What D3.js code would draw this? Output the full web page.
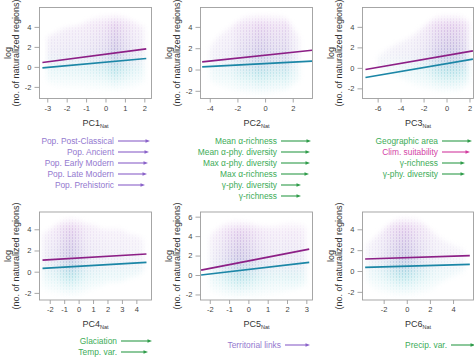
<!DOCTYPE html>
<html>
<head>
<meta charset="utf-8">
<script src="https://cdn.jsdelivr.net/npm/d3@7"></script>
<style>
  body { margin: 0; background: #fff; }
  text { font-family: "Liberation Sans", Arial, sans-serif; }
</style>
</head>
<body>
<svg id="chart" width="474" height="357"></svg>
<script>
// ---- axes ----
var pcNames = ["PC1", "PC2", "PC3", "PC4", "PC5", "PC6"];
var xDomains = [[-3.4, 2.37], [-4.67, 3.43], [-7.32, 2.35], [-2.71, 5.05], [-2.48, 3.32], [-3.83, 5.77]];
var yDomains = [[-3.16, 5.94], [-2.72, 5.82], [-2.99, 5.89], [-2.67, 5.63], [-2.57, 6.48], [-2.78, 5.66]];
var xTicks = [[-3, -2, -1, 0, 1, 2], [-4, -2, 0, 2], [-6, -4, -2, 0, 2], [-2, -1, 0, 1, 2, 3, 4], [-2, -1, 0, 1, 2, 3], [-2, 0, 2, 4]];
var yTicks = [[-2, 0, 2, 4], [-2, 0, 2, 4], [-2, 0, 2, 4], [-2, 0, 2, 4], [-2, 0, 2, 4, 6], [-2, 0, 2, 4]];

// ---- point clouds per x bin ----
var cloudX = [
  [-3, -2.5, -2, -1.5, -1, -0.5, 0, 0.5, 1, 1.5, 2],
  [-4, -3.5, -3, -2.5, -2, -1.5, -1, -0.5, 0, 0.5, 1, 1.5, 2, 2.5],
  [-6, -5, -4, -3, -2, -1.5, -1, -0.5, 0, 0.5, 1, 1.5, 2],
  [-2.5, -2, -1.5, -1, -0.5, 0, 0.5, 1, 1.5, 2, 2.5, 3, 3.5, 4, 4.5],
  [-2, -1.5, -1, -0.5, 0, 0.5, 1, 1.5, 2, 2.5, 3],
  [-3.5, -3, -2.5, -2, -1.5, -1, -0.5, 0, 0.5, 1, 1.5, 2, 2.5, 3, 4, 5]
];
var cloudDens = [
  [.25, .25, .3, .3, .35, .45, .6, 1, .6, .35, .2],
  [.1, .15, .2, .25, .45, .6, .7, .9, .85, .7, .65, .7, .3, .15],
  [.1, .1, .15, .2, .35, .5, .75, .9, 1, 1, .9, .7, .4],
  [.2, .3, .45, .8, 1, .7, .4, .3, .25, .2, .2, .2, .15, .15, .1],
  [.2, .35, .7, 1, .8, .5, .35, .3, .35, .35, .2],
  [.1, .15, .25, .4, .6, .8, 1, 1, .8, .6, .45, .3, .2, .15, .1, .05]
];
var cloudTop = [
  [3, 3.5, 4, 4, 4.5, 5, 5.2, 5.5, 5, 4.5, 4],
  [2, 3, 3.5, 4, 4.5, 5, 5.2, 5.3, 5.3, 5.3, 5, 5, 4, 3],
  [1, 2, 2.5, 3, 4, 4.5, 5, 5.2, 5.3, 5.3, 5.3, 5, 4.5],
  [3.5, 4, 4.5, 5, 5.3, 5, 4.5, 4.5, 4, 4, 4, 4, 3.5, 3.5, 3],
  [4, 5, 5.5, 5.8, 5.5, 5, 5, 5, 5.5, 5.5, 5],
  [2.5, 3, 3.5, 4, 4.5, 5, 5.2, 5.3, 5.2, 5, 4.5, 4, 3.5, 3, 2.5, 2]
];
var cloudBottom = [
  [-1.5, -2, -2, -2, -2.2, -2.3, -2.5, -2.5, -2.3, -2, -1.5],
  [-1, -1.5, -1.5, -2, -2, -2.3, -2.5, -2.5, -2.5, -2.3, -2, -2, -1.5, -1],
  [0, -0.5, -1, -1.5, -2, -2, -2.3, -2.5, -2.5, -2.5, -2.3, -2, -1.5],
  [-1.5, -2, -2, -2.3, -2.5, -2.3, -2, -1.5, -1.5, -1, -1, -1, -0.5, -0.5, 0],
  [-1.5, -2, -2.3, -2.5, -2.5, -2.3, -2, -2, -1.5, -1.5, -1],
  [-1, -1.5, -2, -2, -2.3, -2.5, -2.5, -2.5, -2.5, -2.3, -2, -2, -1.5, -1, -0.5, 0]
];

// ---- fitted lines: [xStart, xEnd, yStart, yEnd] ----
var fitPurple = [[-3.25, 2.1, 0.44, 1.8], [-4.55, 3.4, 0.71, 1.81], [-7.06, 2.3, -0.16, 1.66],
                 [-2.5, 4.7, 1.1, 1.67], [-2.45, 3.15, 0.51, 2.67], [-3.6, 5.45, 1.15, 1.47]];
var fitTeal = [[-3.25, 2.1, -0.1, 0.84], [-4.55, 3.4, 0.25, 0.78], [-7.06, 2.3, -0.94, 0.85],
               [-2.5, 4.7, 0.31, 0.88], [-2.45, 3.15, 0, 1.3], [-3.6, 5.45, 0.35, 0.64]];

// ---- variable loadings listed under each panel ----
var pcVars = [
  ["Pop. Post-Classical", "Pop. Ancient", "Pop. Early Modern", "Pop. Late Modern", "Pop. Prehistoric"],
  ["Mean \u03b1-richness", "Mean \u03b1-phy. diversity", "Max \u03b1-phy. diversity", "Max \u03b1-richness", "\u03b3-phy. diversity", "\u03b3-richness"],
  ["Geographic area", "Clim. suitability", "\u03b3-richness", "\u03b3-phy. diversity"],
  ["Glaciation", "Temp. var."],
  ["Territorial links"],
  ["Precip. var."]
];
var pcLoad = [
  [0.32, 0.31, 0.30, 0.29, 0.27],
  [0.30, 0.29, 0.29, 0.28, 0.20, 0.20],
  [0.30, 0.28, 0.23, 0.23],
  [0.31, 0.27],
  [0.25],
  [0.24]
];
var pcKind = [
  ["soc", "soc", "soc", "soc", "soc"],
  ["bio", "bio", "bio", "bio", "bio", "bio"],
  ["bio", "clim", "bio", "bio"],
  ["bio", "bio"],
  ["soc"],
  ["bio"]
];
var kindText = { soc: "#9479cf", bio: "#3dac58", clim: "#d445a6" };
var kindArrow = { soc: "#8a62c9", bio: "#2f9c4a", clim: "#d23a9e" };

// ---- layout ----
var boxX = [[39.5, 151.5], [200.5, 312.5], [362.5, 473.5]];
var rowY = [[7.5, 98.5], [212, 300]];
var listRight = [114, 277, 438, 117, 281, 447];
var listTop = [144, 144, 144, 344, 348, 348];
var rowStep = 11;

var svg = d3.select("#chart");
var defs = svg.append("defs");

var cg = defs.append("linearGradient").attr("id", "cloudColor")
  .attr("x1", 0).attr("x2", 0).attr("y1", 0).attr("y2", 1);
[[0, "#dcbde8", 0], [0.14, "#d3b0e1", 1], [0.5, "#a79fd2", 1], [0.72, "#8cd2dc", 1], [1, "#a6e0e6", 0]]
  .forEach(function (s) {
    cg.append("stop").attr("offset", s[0]).attr("stop-color", s[1]).attr("stop-opacity", s[2]);
  });

defs.append("filter").attr("id", "soft").attr("x", "-20%").attr("y", "-20%")
  .attr("width", "140%").attr("height", "140%")
  .append("feGaussianBlur").attr("stdDeviation", 2.5);

// vertical dotted streaks, like the points stacked at each x value
var sp = defs.append("pattern").attr("id", "speck").attr("patternUnits", "userSpaceOnUse")
  .attr("width", 3).attr("height", 3);
sp.append("rect").attr("width", 3).attr("height", 3).attr("fill", "#8c8c8c");
sp.append("rect").attr("x", 0).attr("y", 0).attr("width", 1).attr("height", 2).attr("fill", "#fff");
defs.append("mask").attr("id", "speckMask").attr("maskUnits", "userSpaceOnUse")
  .attr("x", 0).attr("y", 0).attr("width", 474).attr("height", 357)
  .append("rect").attr("width", 474).attr("height", 357).attr("fill", "url(#speck)");

pcNames.forEach(function (name, i) {
  var col = i % 3, row = Math.floor(i / 3);
  var x = d3.scaleLinear().domain(xDomains[i]).range(boxX[col]);
  var y = d3.scaleLinear().domain(yDomains[i]).range([rowY[row][1], rowY[row][0]]);
  var g = svg.append("g");

  defs.append("clipPath").attr("id", "clip" + i).append("rect")
    .attr("x", boxX[col][0]).attr("y", rowY[row][0])
    .attr("width", boxX[col][1] - boxX[col][0]).attr("height", rowY[row][1] - rowY[row][0]);

  // density along x as a mask
  var bins = cloudX[i], x0 = x(bins[0]), x1 = x(bins[bins.length - 1]);
  var dg = defs.append("linearGradient").attr("id", "dens" + i)
    .attr("gradientUnits", "userSpaceOnUse")
    .attr("x1", x0).attr("x2", x1).attr("y1", 0).attr("y2", 0);
  bins.forEach(function (b, j) {
    dg.append("stop").attr("offset", (x(b) - x0) / (x1 - x0))
      .attr("stop-color", "#fff").attr("stop-opacity", 0.12 + 0.62 * cloudDens[i][j]);
  });
  defs.append("mask").attr("id", "mask" + i).attr("maskUnits", "userSpaceOnUse")
    .attr("x", 0).attr("y", 0).attr("width", 474).attr("height", 357)
    .append("rect").attr("x", 0).attr("y", 0).attr("width", 474).attr("height", 357)
    .attr("fill", "url(#dens" + i + ")");

  var cloud = bins.map(function (b, j) {
    return { x: b, lo: cloudBottom[i][j], hi: cloudTop[i][j] };
  });
  var area = d3.area().curve(d3.curveBasis)
    .x(d => x(d.x)).y0(d => y(d.lo)).y1(d => y(d.hi));

  g.append("g").attr("clip-path", "url(#clip" + i + ")")
    .append("g").attr("mask", "url(#mask" + i + ")")
    .append("g").attr("mask", "url(#speckMask)")
    .append("path").datum(cloud)
    .attr("d", area)
    .attr("fill", "url(#cloudColor)")
    .attr("filter", "url(#soft)");

  // fitted lines
  [[fitPurple[i], "#8c1f86"], [fitTeal[i], "#1b86a6"]].forEach(function (f) {
    g.append("line")
      .attr("x1", x(f[0][0])).attr("x2", x(f[0][1]))
      .attr("y1", y(f[0][2])).attr("y2", y(f[0][3]))
      .attr("stroke", f[1]).attr("stroke-width", 1.7);
  });

  // frame
  g.append("rect")
    .attr("x", boxX[col][0]).attr("y", rowY[row][0])
    .attr("width", boxX[col][1] - boxX[col][0]).attr("height", rowY[row][1] - rowY[row][0])
    .attr("fill", "none").attr("stroke", "#9d9d9d").attr("stroke-width", 0.9);

  // axes
  var xa = g.append("g").attr("transform", "translate(0," + rowY[row][1] + ")")
    .call(d3.axisBottom(x).tickValues(xTicks[i]).tickFormat(d => d).tickSize(4).tickPadding(3));
  var ya = g.append("g").attr("transform", "translate(" + boxX[col][0] + ",0)")
    .call(d3.axisLeft(y).tickValues(yTicks[i]).tickFormat(d => d).tickSize(5).tickPadding(3));
  [xa, ya].forEach(function (a) {
    a.select(".domain").remove();
    a.selectAll(".tick line").attr("stroke", "#9d9d9d").attr("stroke-width", 0.9);
    a.selectAll(".tick text").attr("fill", "#444").attr("font-size", 7.5)
      .attr("font-family", "'Liberation Sans', Arial, sans-serif");
  });

  // x title
  var cx = (boxX[col][0] + boxX[col][1]) / 2;
  var xt = g.append("text").attr("x", cx).attr("y", rowY[row][1] + 27)
    .attr("text-anchor", "middle").attr("font-size", 9).attr("fill", "#333");
  xt.append("tspan").text(name);
  xt.append("tspan").text("Nat").attr("font-size", 5.5).attr("dy", 2);

  // y title
  var cy = (rowY[row][0] + rowY[row][1]) / 2;
  [["log", boxX[col][0] - 32], ["(no. of naturalized regions)", boxX[col][0] - 24]].forEach(function (t) {
    g.append("text")
      .attr("transform", "translate(" + t[1] + "," + cy + ") rotate(-90)")
      .attr("text-anchor", "middle").attr("dy", "0.35em")
      .attr("font-size", 9).attr("fill", "#333").text(t[0]);
  });

  // variable list with loading arrows
  var len = d3.scaleLinear().domain([0, 1]).range([0, 100]);
  pcVars[i].forEach(function (v, j) {
    var k = pcKind[i][j], ty = listTop[i] + j * rowStep;
    g.append("text").attr("x", listRight[i]).attr("y", ty)
      .attr("text-anchor", "end").attr("font-size", 8.4)
      .attr("fill", kindText[k]).text(v);
    var ax0 = listRight[i] + 4, ax1 = ax0 + len(pcLoad[i][j]), ay = ty - 3;
    g.append("line").attr("x1", ax0).attr("x2", ax1 - 3).attr("y1", ay).attr("y2", ay)
      .attr("stroke", kindArrow[k]).attr("stroke-width", 1.1);
    g.append("path")
      .attr("d", "M" + ax1 + "," + ay + "L" + (ax1 - 4.5) + "," + (ay - 1.8) + "L" + (ax1 - 4.5) + "," + (ay + 1.8) + "Z")
      .attr("fill", kindArrow[k]);
  });
});
</script>
</body>
</html>
